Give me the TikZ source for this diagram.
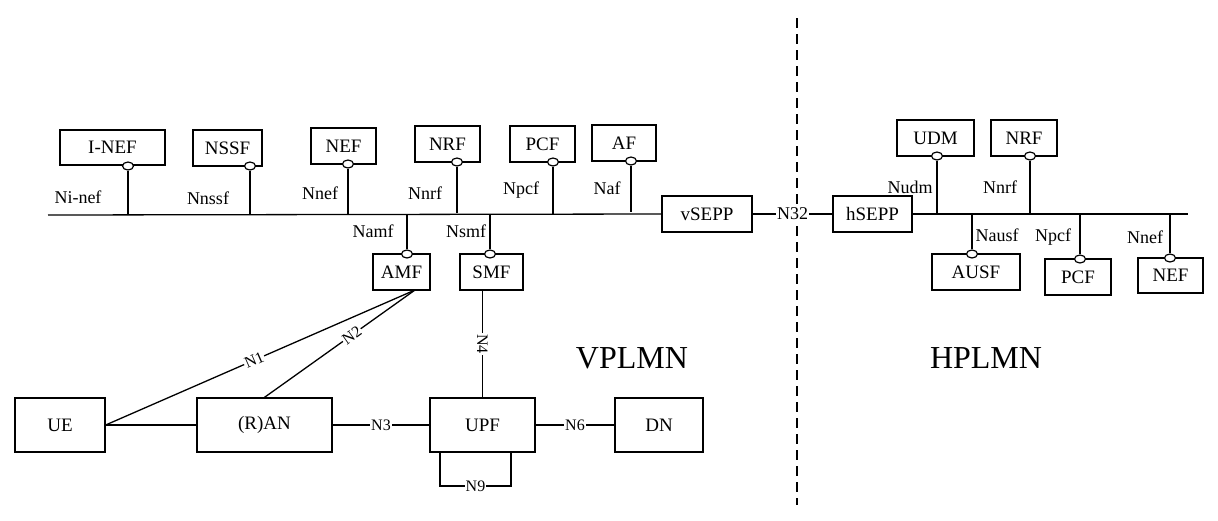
\documentclass[tikz,border=0pt]{standalone}
\usepackage{fontspec}
\setmainfont{Liberation Serif}
\usetikzlibrary{shapes.geometric}
\begin{document}
\begin{tikzpicture}[x=1pt,y=-1pt,line width=1.3pt,
  box/.style={draw,inner sep=0pt,font=\fontsize{19}{19}\selectfont},
  lbl/.style={font=\fontsize{18}{18}\selectfont,inner sep=1pt},
  nl/.style={font=\fontsize{16}{16}\selectfont,fill=white,inner sep=1pt},
  port/.style={draw,fill=white,ellipse,minimum width=11pt,minimum height=8pt,inner sep=0pt,line width=1.2pt}]
\useasboundingbox (0,0) rectangle (1218,520);
\newcommand{\bx}[6]{\node[box,minimum width=#4-#2,minimum height=#5-#3] (#1) at ({(#2+#4)/2},{(#3+#5)/2}) {#6};}
\draw[dash pattern=on 10pt off 6pt,line width=1.6pt] (797,18) -- (797,505);
% top VPLMN
\bx{inef}{60}{130}{165}{165}{I-NEF}
\bx{nssf}{193}{130}{262}{166}{NSSF}
\bx{nef}{311}{128}{376}{164}{NEF}
\bx{nrf}{415}{126}{480}{162}{NRF}
\bx{pcf}{510}{126}{575}{162}{PCF}
\bx{af}{592}{125}{656}{161}{AF}
\bx{vsepp}{662}{196}{752}{232}{vSEPP}
\bx{hsepp}{833}{196}{912}{232}{hSEPP}
\bx{amf}{373}{254}{430}{290}{AMF}
\bx{smf}{460}{254}{523}{290}{SMF}
\bx{ue}{15}{398}{105}{452}{UE}
\bx{ran}{197}{398}{332}{452}{(R)AN}
\bx{upf}{430}{398}{535}{452}{UPF}
\bx{dn}{615}{398}{703}{452}{DN}
\bx{udm}{897}{120}{974}{156}{UDM}
\bx{hnrf}{991}{120}{1057}{156}{NRF}
\bx{ausf}{932}{254}{1020}{290}{AUSF}
\bx{hpcf}{1045}{259}{1111}{295}{PCF}
\bx{hnef}{1138}{258}{1203}{293}{NEF}
% buses
\coordinate (b1) at (48,215);
\draw (b1) -- (vsepp.west);
\coordinate (b2) at (1188,214);
\draw (hsepp.east) -- (b2);
\draw (vsepp.east) -- node[nl,font=\fontsize{18}{18}\selectfont] {N32} (hsepp.west);
% ports
\node[port] (pinef) at (128,166) {}; \draw (pinef.south) -- (128,215);
\node[port] (pnssf) at (250,166) {}; \draw (pnssf.south) -- (250,215);
\node[port] (pnef) at (348,164) {}; \draw (pnef.south) -- (348,215);
\node[port] (pnrf) at (457,162) {}; \draw (pnrf.south) -- (457,213);
\node[port] (ppcf) at (553,162) {}; \draw (ppcf.south) -- (553,215);
\node[port] (paf) at (631,161) {}; \draw (paf.south) -- (631,212);
\node[port] (pamf) at (407,254) {}; \draw (pamf.north) -- (407,215);
\node[port] (psmf) at (490,254) {}; \draw (psmf.north) -- (490,215);
\node[port] (pudm) at (937,156) {}; \draw (pudm.south) -- (937,214);
\node[port] (phnrf) at (1030,156) {}; \draw (phnrf.south) -- (1030,214);
\node[port] (pausf) at (972,254) {}; \draw (pausf.north) -- (972,214);
\node[port] (phpcf) at (1080,259) {}; \draw (phpcf.north) -- (1080,214);
\node[port] (phnef) at (1170,258) {}; \draw (phnef.north) -- (1170,214);
% interface labels
\node[lbl] at (78,197) {Ni-nef};
\node[lbl] at (208,198) {Nnssf};
\node[lbl] at (320,193) {Nnef};
\node[lbl] at (425,193) {Nnrf};
\node[lbl] at (521,190) {Npcf};
\node[lbl] at (607,188) {Naf};
\node[lbl] at (373,231) {Namf};
\node[lbl] at (466,231) {Nsmf};
\node[lbl] at (910,187) {Nudm};
\node[lbl] at (1000,187) {Nnrf};
\node[lbl] at (997,235) {Nausf};
\node[lbl] at (1053,237) {Npcf};
\node[lbl] at (1145,237) {Nnef};
% lower connectors
\coordinate (amfb) at (415,290);
\draw (amfb) -- node[nl,sloped,pos=0.52] {N1} (ue.east);
\draw (amfb) -- node[nl,sloped,pos=0.42] {N2} (ran.north);
\draw (ue.east) -- (ran.west);
\draw (smf.south -| upf.north) -- node[nl,sloped,pos=0.5] {N4} (upf.north);
\draw (ran.east) -- node[nl] {N3} (upf.west);
\draw (upf.east) -- node[nl] {N6} (dn.west);
\coordinate (l1) at (440,486); \coordinate (l2) at (511,486);
\draw (upf.south -| l1) -- (l1) -- node[nl] {N9} (l2) -- (upf.south -| l2);
% regions
\node[font=\fontsize{32}{32}\selectfont] at (632,358) {VPLMN};
\node[font=\fontsize{32}{32}\selectfont] at (986,358) {HPLMN};
\end{tikzpicture}
\end{document}
